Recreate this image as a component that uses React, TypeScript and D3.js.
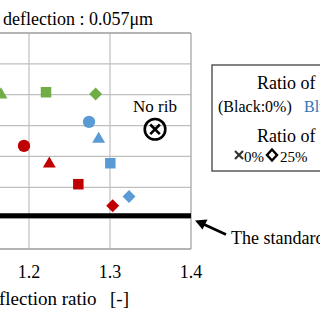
import React from "react";
import * as d3 from "d3";

// Deflection ratio (x) and deflection (y) for each rib configuration
const greenX = [1.1654, 1.221, 1.2823];
const greenY = [0.075, 0.0754, 0.0751];
const blueX = [1.2741, 1.286, 1.3004, 1.3235];
const blueY = [0.0706, 0.0678, 0.0639, 0.0585];
const redX = [1.1938, 1.2251, 1.2609, 1.3033];
const redY = [0.0667, 0.0638, 0.0605, 0.057];
const shapes = ["circle", "triangle", "square", "diamond"];
const greenShapes = ["triangle", "square", "diamond"];
const noRibX = 1.3556;
const noRibY = 0.0694;
const standardY = 0.0554;
const xTicks = [1.2, 1.3, 1.4];
const xGrid = [1.1, 1.2, 1.3];
const yGrid = [0.05, 0.055, 0.06, 0.065, 0.07, 0.075, 0.08, 0.085];

const GREEN = "#70ad47";
const BLUE = "#5b9bd5";
const RED = "#c00000";
const FONT = "'Liberation Serif', 'DejaVu Serif', 'Noto Serif', serif";

const x = d3.scaleLinear().domain([1.2, 1.4]).range([29, 191]);
const y = d3.scaleLinear().domain([0.05, 0.085]).range([249, 33]);

const symbolFor: Record<string, [d3.SymbolType, number, number]> = {
  circle: [d3.symbolCircle, 120, 0],
  triangle: [d3.symbolTriangle, 72, 0],
  square: [d3.symbolSquare, 110, 0],
  diamond: [d3.symbolSquare, 84, 45],
};

function Marker({ cx, cy, shape, color }: { cx: number; cy: number; shape: string; color: string }) {
  const [type, size, rot] = symbolFor[shape];
  const d = d3.symbol().type(type).size(size)() as string;
  return <path d={d} transform={`translate(${cx},${cy}) rotate(${rot})`} fill={color} />;
}

function T(props: React.SVGProps<SVGTextElement>) {
  return <text {...props} style={{ fontFamily: FONT }} />;
}

export default function App() {
  const left = x(1.1);
  const right = x(1.4);
  const top = y(0.085);
  const bottom = y(0.05);
  return (
    <svg
      width={320}
      height={320}
      style={{ position: "absolute", left: 0, top: 0, background: "#fff" }}
    >
      <T x={3} y={25} fontSize={18} fill="#000">deflection : 0.057μm</T>

      {/* grid */}
      {yGrid.map((v) => (
        <line key={"h" + v} x1={left} x2={right} y1={y(v)} y2={y(v)} stroke="#bfbfbf" strokeWidth={1.2} />
      ))}
      {xGrid.map((v) => (
        <line key={"v" + v} x1={x(v)} x2={x(v)} y1={top} y2={bottom} stroke="#bfbfbf" strokeWidth={1.2} />
      ))}
      <line x1={right} x2={right} y1={top} y2={bottom} stroke="#a6a6a6" strokeWidth={1.3} />
      <line x1={left} x2={right} y1={top} y2={top} stroke="#a6a6a6" strokeWidth={1.3} />
      <line x1={left} x2={right} y1={bottom} y2={bottom} stroke="#a6a6a6" strokeWidth={1.3} />

      {/* standard line */}
      <line x1={left} x2={right} y1={y(standardY)} y2={y(standardY)} stroke="#000" strokeWidth={5} />

      {/* data */}
      {greenX.map((v, i) => (
        <Marker key={"g" + i} cx={x(v)} cy={y(greenY[i])} shape={greenShapes[i]} color={GREEN} />
      ))}
      {blueX.map((v, i) => (
        <Marker key={"b" + i} cx={x(v)} cy={y(blueY[i])} shape={shapes[i]} color={BLUE} />
      ))}
      {redX.map((v, i) => (
        <Marker key={"r" + i} cx={x(v)} cy={y(redY[i])} shape={shapes[i]} color={RED} />
      ))}

      {/* no rib */}
      <g transform={`translate(${x(noRibX)},${y(noRibY)})`} stroke="#000" strokeWidth={2.6} fill="none">
        <circle r={10.3} />
        <line x1={-4.8} y1={-4.8} x2={4.8} y2={4.8} />
        <line x1={-4.8} y1={4.8} x2={4.8} y2={-4.8} />
      </g>
      <T x={x(noRibX)} y={112} fontSize={17} textAnchor="middle" fill="#000">No rib</T>

      {/* x axis labels */}
      {xTicks.map((t) => (
        <T key={t} x={x(t)} y={278} fontSize={18} textAnchor="middle" fill="#000">
          {t.toFixed(1)}
        </T>
      ))}
      <T y={305} fontSize={19} fill="#000">
        <tspan x={-1}>flection ratio</tspan>
        <tspan x={110}>[-]</tspan>
      </T>

      {/* legend */}
      <rect x={212} y={65} width={130} height={106} fill="#fff" stroke="#595959" strokeWidth={1.5} />
      <T x={257} y={89} fontSize={18} fill="#000">Ratio of</T>
      <T x={218} y={112} fontSize={16} fill="#000">(Black:0%)</T>
      <T x={304} y={112} fontSize={16} fill="#2e75b6">Blue</T>
      <T x={257} y={142} fontSize={18} fill="#000">Ratio of</T>
      <g stroke="#333" strokeWidth={2.2} fill="none">
        <line x1={235} y1={151} x2={243} y2={159} />
        <line x1={235} y1={159} x2={243} y2={151} />
        <path d="M272,149.5 L277,155 L272,160.5 L267,155 Z" stroke="#000" strokeWidth={2.4} />
      </g>
      <T x={244} y={162} fontSize={15} fill="#000">0%</T>
      <T x={280} y={162} fontSize={15} fill="#000">25%</T>

      {/* arrow to the standard line */}
      <line x1={226} y1={234.5} x2={202} y2={223.5} stroke="#000" strokeWidth={2.6} />
      <path d="M195,220.5 L207.5,219.5 L202.5,229.5 Z" fill="#000" />
      <T x={231} y={244} fontSize={18} fill="#000">The standard</T>
    </svg>
  );
}
